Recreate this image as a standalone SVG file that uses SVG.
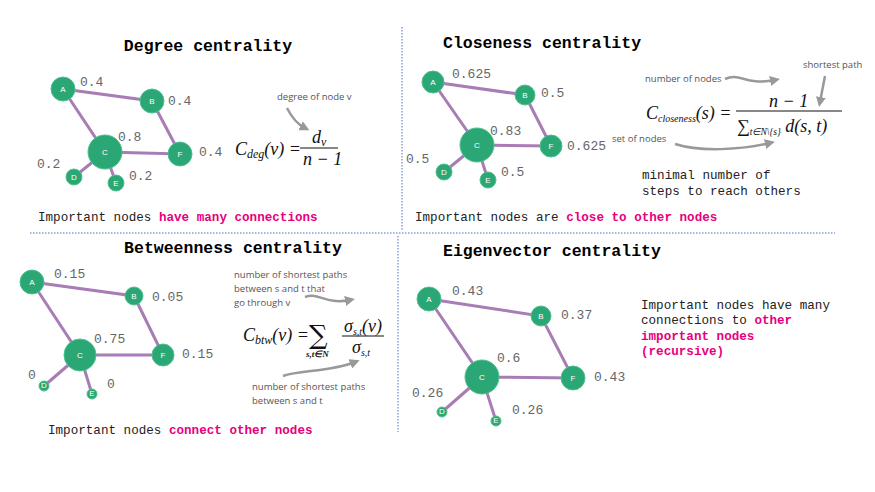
<svg xmlns="http://www.w3.org/2000/svg" width="875" height="492" viewBox="0 0 875 492">
<style>
.t{font-family:"Liberation Mono",monospace;font-weight:bold;font-size:16.5px;fill:#000}
.v{font-family:"Liberation Mono",monospace;font-size:13px;fill:#666}
.d{font-family:"Liberation Mono",monospace;font-size:12.6px;fill:#222}
.p{fill:#e6007e;font-weight:bold}
.n{fill:#2ba776;stroke:#4fc08f;stroke-width:1}
.nl{font-family:"Liberation Sans",sans-serif;font-size:8px;fill:#fff;text-anchor:middle}
.e{stroke:#a87cb5;stroke-width:3;fill:none}
.a{font-family:"Open Sans",sans-serif;font-size:9.5px;fill:#555}
.ar{stroke:#999;stroke-width:2.5;fill:none}
.f{font-family:"Liberation Serif",serif;font-style:italic;font-size:18px;fill:#111}
.sep{stroke:#4a6fc9;stroke-width:1;stroke-dasharray:1.5 1.5;fill:none}
</style>
<defs><marker id="m" viewBox="0 0 10 10" refX="5" refY="5" markerWidth="4" markerHeight="4" orient="auto"><path d="M0,0L10,5L0,10z" fill="#999"/></marker></defs>
<rect width="875" height="492" fill="#fff"/>
<g id="separators">
<path class="sep" d="M402,27V230M398,236V432M30,233H835"/>
</g>
<g id="connectors">
<path class="e" d="M63,89L152,101L180,154L105,152L63,89M105,152L74,177M105,152L116,183"/>
<path class="e" d="M433,82L525,95L551,146L477,145L433,82M477,145L444,172M477,145L488,180"/>
<path class="e" d="M32,282L134,296L163,355L80,355L32,282M80,355L44,386M80,355L92,394"/>
<path class="e" d="M429,299L541,316L573,378L482,377L429,299M482,377L442,412M482,377L496,421"/>
<path class="ar" marker-end="url(#m)" d="M287,108C292,118 297,124 305,128"/>
<path class="ar" marker-end="url(#m)" d="M725,79C740,72 745,86 775,80"/>
<path class="ar" marker-end="url(#m)" d="M825,76L820,102"/>
<path class="ar" marker-end="url(#m)" d="M675,144C700,152 740,150 770,143"/>
<path class="ar" marker-end="url(#m)" d="M305,297C320,292 325,305 350,300"/>
<path class="ar" marker-end="url(#m)" d="M283,376C300,370 330,372 355,362"/>
</g>
<g id="degree">
<text class="t" x="208" y="51" text-anchor="middle">Degree centrality</text>
<g id="d-A"><circle class="n" cx="63" cy="89" r="12"/><text class="nl" x="63" y="92">A</text></g>
<g id="d-B"><circle class="n" cx="152" cy="101" r="12"/><text class="nl" x="152" y="104">B</text></g>
<g id="d-C"><circle class="n" cx="105" cy="152" r="17"/><text class="nl" x="105" y="155">C</text></g>
<g id="d-F"><circle class="n" cx="180" cy="154" r="12"/><text class="nl" x="180" y="157">F</text></g>
<g id="d-D"><circle class="n" cx="74" cy="177" r="8"/><text class="nl" x="74" y="180">D</text></g>
<g id="d-E"><circle class="n" cx="116" cy="183" r="8"/><text class="nl" x="116" y="186">E</text></g>
<text class="v" x="80" y="86">0.4</text><text class="v" x="168" y="105">0.4</text><text class="v" x="118" y="141">0.8</text>
<text class="v" x="199" y="156">0.4</text><text class="v" x="37" y="168">0.2</text><text class="v" x="129" y="180">0.2</text>
<text class="a" x="277" y="100">degree of node v</text>
<text class="f" x="235" y="155">C<tspan font-size="12" dy="3">deg</tspan><tspan dy="-3">(v) =</tspan></text>
<text class="f" x="312" y="143">d<tspan font-size="12" dy="3">v</tspan></text>
<line x1="300" y1="148" x2="338" y2="148" stroke="#111" stroke-width="1"/>
<text class="f" x="303" y="165">n − 1</text>
<text class="d" x="38" y="221">Important nodes <tspan class="p">have many connections</tspan></text>
</g>
<g id="closeness">
<text class="t" x="443" y="48">Closeness centrality</text>
<g id="c-A"><circle class="n" cx="433" cy="82" r="11"/><text class="nl" x="433" y="85">A</text></g>
<g id="c-B"><circle class="n" cx="525" cy="95" r="10"/><text class="nl" x="525" y="98">B</text></g>
<g id="c-C"><circle class="n" cx="477" cy="145" r="17"/><text class="nl" x="477" y="148">C</text></g>
<g id="c-F"><circle class="n" cx="551" cy="146" r="11"/><text class="nl" x="551" y="149">F</text></g>
<g id="c-D"><circle class="n" cx="444" cy="172" r="8"/><text class="nl" x="444" y="175">D</text></g>
<g id="c-E"><circle class="n" cx="488" cy="180" r="8"/><text class="nl" x="488" y="183">E</text></g>
<text class="v" x="452" y="78">0.625</text><text class="v" x="541" y="97">0.5</text><text class="v" x="490" y="135">0.83</text>
<text class="v" x="567" y="150">0.625</text><text class="v" x="406" y="163">0.5</text><text class="v" x="501" y="176">0.5</text>
<text class="a" x="645" y="82">number of nodes</text>
<text class="a" x="803" y="68">shortest path</text>
<text class="a" x="612" y="142">set of nodes</text>
<text class="f" x="646" y="119" font-size="16">C<tspan font-size="10" dy="3">closeness</tspan><tspan dy="-3">(s) =</tspan></text>
<text class="f" x="769" y="107">n − 1</text>
<line x1="736" y1="111" x2="842" y2="111" stroke="#111" stroke-width="1"/>
<text class="f" x="737" y="132" font-size="17">∑<tspan font-size="9.5" dy="3">t∈N\{s}</tspan><tspan dy="-3"> d(s, t)</tspan></text>
<text class="d" x="642" y="179">minimal number of</text>
<text class="d" x="642" y="195">steps to reach others</text>
<text class="d" x="415" y="221">Important nodes are <tspan class="p">close to other nodes</tspan></text>
</g>
<g id="betweenness">
<text class="t" x="233" y="253" text-anchor="middle">Betweenness centrality</text>
<g id="b-A"><circle class="n" cx="32" cy="282" r="12"/><text class="nl" x="32" y="285">A</text></g>
<g id="b-B"><circle class="n" cx="134" cy="296" r="9"/><text class="nl" x="134" y="299">B</text></g>
<g id="b-C"><circle class="n" cx="80" cy="355" r="16"/><text class="nl" x="80" y="358">C</text></g>
<g id="b-F"><circle class="n" cx="163" cy="355" r="11"/><text class="nl" x="163" y="358">F</text></g>
<g id="b-D"><circle class="n" cx="44" cy="386" r="5"/><text class="nl" x="44" y="388" font-size="5">D</text></g>
<g id="b-E"><circle class="n" cx="92" cy="394" r="5"/><text class="nl" x="92" y="396" font-size="5">E</text></g>
<text class="v" x="54" y="278">0.15</text><text class="v" x="152" y="301">0.05</text><text class="v" x="94" y="343">0.75</text>
<text class="v" x="182" y="358">0.15</text><text class="v" x="28" y="379">0</text><text class="v" x="107" y="388">0</text>
<text class="a" x="234" y="278">number of shortest paths</text>
<text class="a" x="234" y="292">between s and t that</text>
<text class="a" x="234" y="306">go through v</text>
<text class="f" x="243" y="341">C<tspan font-size="12" dy="3">btw</tspan><tspan dy="-3">(v) =</tspan></text>
<text x="309" y="344" style="font-family:'DejaVu Serif',serif;font-size:26px;fill:#111">∑</text>
<text x="306" y="357" style="font-family:'Liberation Serif',serif;font-style:italic;font-weight:bold;font-size:9px;fill:#111">s,t∈N</text>
<text class="f" x="344" y="332">σ<tspan font-size="10" dy="3">s,t</tspan><tspan dy="-3">(v)</tspan></text>
<line x1="342" y1="336" x2="384" y2="336" stroke="#111" stroke-width="1"/>
<text class="f" x="352" y="353">σ<tspan font-size="10" dy="3">s,t</tspan></text>
<text class="a" x="252" y="390">number of shortest paths</text>
<text class="a" x="252" y="404">between s and t</text>
<text class="d" x="48" y="434">Important nodes <tspan class="p">connect other nodes</tspan></text>
</g>
<g id="eigenvector">
<text class="t" x="443" y="256">Eigenvector centrality</text>
<g id="e-A"><circle class="n" cx="429" cy="299" r="12"/><text class="nl" x="429" y="302">A</text></g>
<g id="e-B"><circle class="n" cx="541" cy="316" r="10"/><text class="nl" x="541" y="319">B</text></g>
<g id="e-C"><circle class="n" cx="482" cy="377" r="17"/><text class="nl" x="482" y="380">C</text></g>
<g id="e-F"><circle class="n" cx="573" cy="378" r="12"/><text class="nl" x="573" y="381">F</text></g>
<g id="e-D"><circle class="n" cx="442" cy="412" r="5"/><text class="nl" x="442" y="414" font-size="5">D</text></g>
<g id="e-E"><circle class="n" cx="496" cy="421" r="5"/><text class="nl" x="496" y="423" font-size="5">E</text></g>
<text class="v" x="452" y="295">0.43</text><text class="v" x="561" y="319">0.37</text><text class="v" x="497" y="362">0.6</text>
<text class="v" x="594" y="381">0.43</text><text class="v" x="412" y="397">0.26</text><text class="v" x="512" y="414">0.26</text>
<text class="d" x="641" y="309">Important nodes have many</text>
<text class="d" x="641" y="324">connections to <tspan class="p">other</tspan></text>
<text class="d p" x="641" y="340">important nodes</text>
<text class="d p" x="641" y="355">(recursive)</text>
</g>
</svg>
